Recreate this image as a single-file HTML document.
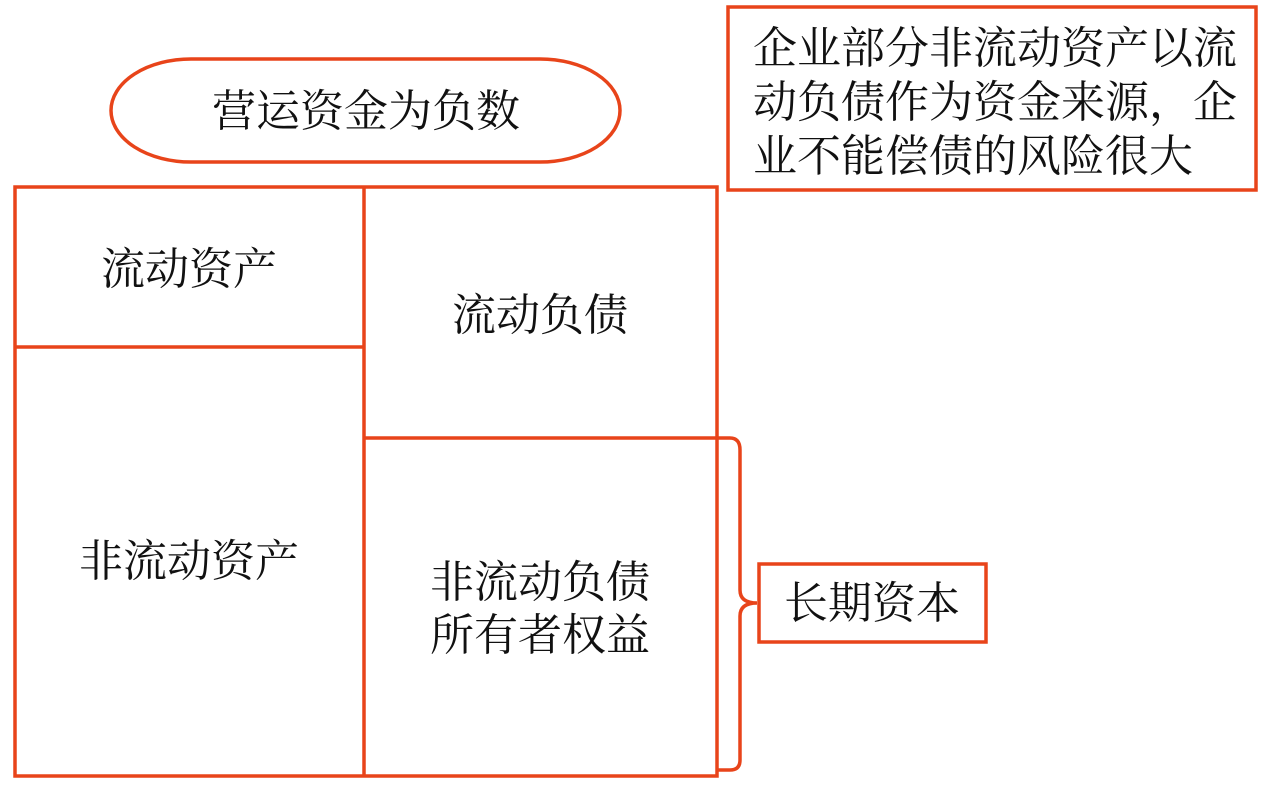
<!DOCTYPE html>
<html><head><meta charset="utf-8"><style>
html,body{margin:0;padding:0;background:#fff;width:1280px;height:800px;overflow:hidden}
text{font-family:"Liberation Serif","Noto Serif CJK SC",serif;fill:#111;}
</style></head><body>
<svg width="1280" height="800" viewBox="0 0 1280 800" xmlns="http://www.w3.org/2000/svg">
<g fill="none" stroke="#E8441A" stroke-width="3.5">
<rect x="111" y="59" width="509" height="103" rx="80" ry="51.5"/>
<rect x="728" y="7" width="528" height="183"/>
<rect x="15" y="187" width="702" height="589"/>
<line x1="15" y1="347" x2="364" y2="347"/>
<line x1="364" y1="187" x2="364" y2="776"/>
<line x1="364" y1="438" x2="717" y2="438"/>
<rect x="759" y="564" width="227" height="78"/>
<path d="M717 438 H730 Q740 438 740 450 V590 Q740 603 757 603 Q740 603 740 616 V760 Q740 770 730 770 H717"/>
</g>
<g font-size="44">
<text x="366" y="126" text-anchor="middle">营运资金为负数</text>
<text x="189" y="284" text-anchor="middle">流动资产</text>
<text x="540" y="330" text-anchor="middle">流动负债</text>
<text x="189" y="576" text-anchor="middle">非流动资产</text>
<text x="540" y="597" text-anchor="middle">非流动负债</text>
<text x="540" y="650" text-anchor="middle">所有者权益</text>
<text x="872" y="618" text-anchor="middle">长期资本</text>
<text x="753" y="63">企业部分非流动资产以流</text>
<text x="753" y="117">动负债作为资金来源，企</text>
<text x="753" y="171">业不能偿债的风险很大</text>
</g>
</svg>
</body></html>
